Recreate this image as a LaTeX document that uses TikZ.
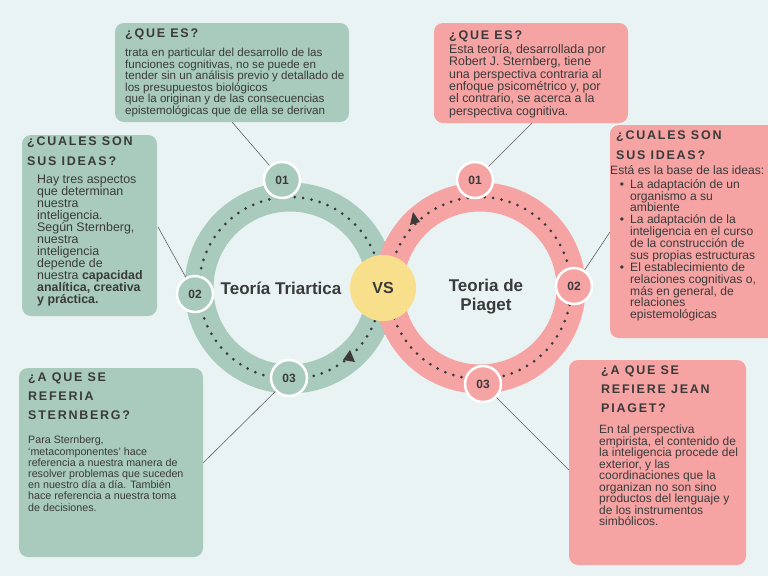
\documentclass[tikz,border=0pt]{standalone}
\usepackage{fontspec}
\setmainfont{Liberation Sans}
\newfontfamily\ttlfont[LetterSpace=14]{Liberation Sans}
\begin{document}
\begin{tikzpicture}[x=1pt,y=-1pt,
  every node/.style={inner sep=0pt},
  gbox/.style={fill=gr,rounded corners=9pt},
  pbox/.style={fill=pk,rounded corners=9pt},
  ttl/.style={anchor=north west,align=left,font=\ttlfont\bfseries\fontsize{12.5}{19.5}\selectfont,text=txt},
  body/.style={anchor=north west,align=left,text=txt},
  itm/.style={anchor=north west,align=left,text=txt,font=\fontsize{12.1}{11.9}\selectfont},
  badge/.style={circle,minimum size=36pt,draw=white,line width=2.5pt,font=\bfseries\fontsize{12}{12}\selectfont,text=txt},
  conn/.style={draw=txt!80,line width=0.6pt},
  dots/.style={draw=txt,line width=3pt,line cap=round,dash pattern=on 0pt off 8.5pt}]
\definecolor{bg}{HTML}{EAF3F4}
\definecolor{gr}{HTML}{A8CBBD}
\definecolor{pk}{HTML}{F6A3A3}
\definecolor{yl}{HTML}{F7DF8B}
\definecolor{txt}{HTML}{3A3A3A}
\fill[bg] (0,0) rectangle (768,576);
\useasboundingbox (0,0) rectangle (768,576);
% rings
\draw[gr,line width=29pt] (290,288) circle[radius=91];
\draw[pk,line width=29pt] (480,288) circle[radius=91];
\draw[dots] (290,288) circle[radius=91];
\draw[dots] (480,288) circle[radius=91];
\fill[txt] (350,350) -- (343,360) -- (355,362) -- cycle;
\fill[txt] (413,212) -- (410,225) -- (420,222) -- cycle;
\node[circle,fill=yl,minimum size=66pt] (vs) at (383,288) {};
\node[font=\bfseries\fontsize{16}{16}\selectfont,text=txt] at (383,288) {VS};
\node[font=\bfseries\fontsize{17}{17}\selectfont,text=txt] (lt) at (281,288) {Teoría Triartica};
\node[font=\bfseries\fontsize{17}{19}\selectfont,text=txt,align=center] (rt) at (486,297) {Teoria de\\Piaget};
% badges
\node[badge,fill=gr] (g1) at (282,180) {01};
\node[badge,fill=gr] (g2) at (195,294) {02};
\node[badge,fill=gr] (g3) at (289,378) {03};
\node[badge,fill=pk] (p1) at (475,180) {01};
\node[badge,fill=pk] (p2) at (574,286) {02};
\node[badge,fill=pk] (p3) at (483,384) {03};
% boxes
\fill[gbox] (115,23) rectangle (349,122);
\fill[gbox] (22,135) rectangle (157,316);
\fill[gbox] (19,368) rectangle (203,557);
\fill[pbox] (434,23) rectangle (628,123);
\fill[pbox] (610,125) rectangle (776,338);
\fill[pbox] (569,360) rectangle (746,565);
\coordinate (c1) at (232,122);
\coordinate (c2) at (158,227);
\coordinate (c3) at (203,463);
\coordinate (d1) at (532,123);
\coordinate (d2) at (610,232);
\coordinate (d3) at (569,470);
\draw[conn] (c1) -- (g1);
\draw[conn] (c2) -- (g2);
\draw[conn] (c3) -- (g3);
\draw[conn] (d1) -- (p1);
\draw[conn] (d2) -- (p2);
\draw[conn] (d3) -- (p3);
% texts
\node[ttl] at (125,29) {¿QUE ES?};
\node[body,font=\fontsize{11.6}{11.5}\selectfont] at (125,48) {trata en particular del desarrollo de las\\funciones cognitivas, no se puede en\\tender sin un análisis previo y detallado de\\los presupuestos biológicos\\que la originan y de las consecuencias\\epistemológicas que de ella se derivan};
\node[ttl] at (27,137) {¿CUALES SON\\SUS IDEAS?};
\node[body,font=\fontsize{12.4}{12}\selectfont] at (37,175) {Hay tres aspectos\\que determinan\\nuestra\\inteligencia.\\Según Sternberg,\\nuestra\\inteligencia\\depende de\\nuestra \textbf{capacidad}\\\textbf{analítica, creativa}\\\textbf{y práctica.}};
\node[ttl,font=\ttlfont\bfseries\fontsize{12.5}{19}\selectfont] at (28,373) {¿A QUE SE\\REFERIA\\STERNBERG?};
\node[body,font=\fontsize{10.7}{11.2}\selectfont] at (28,436) {Para Sternberg,\\‘metacomponentes' hace\\referencia a nuestra manera de\\resolver problemas que suceden\\en nuestro día a día. También\\hace referencia a nuestra toma\\de decisiones.};
\node[ttl] at (449,31) {¿QUE ES?};
\node[body,font=\fontsize{12.4}{12.4}\selectfont] at (449,44) {Esta teoría, desarrollada por\\Robert J. Sternberg, tiene\\una perspectiva contraria al\\enfoque psicométrico y, por\\el contrario, se acerca a la\\perspectiva cognitiva.};
\node[ttl] at (616,131) {¿CUALES SON\\SUS IDEAS?};
\node[itm] at (610,165) {Está es la base de las ideas:};
\node[itm] at (630,179) {\llap{•\hspace{6pt}}La adaptación de un\\organismo a su\\ambiente};
\node[itm] at (630,214.7) {\llap{•\hspace{6pt}}La adaptación de la\\inteligencia en el curso\\de la construcción de\\sus propias estructuras};
\node[itm] at (630,262.3) {\llap{•\hspace{6pt}}El establecimiento de\\relaciones cognitivas o,\\más en general, de\\relaciones\\epistemológicas};
\node[ttl,font=\ttlfont\bfseries\fontsize{12.5}{19}\selectfont] at (601,366) {¿A QUE SE\\REFIERE JEAN\\PIAGET?};
\node[body,font=\fontsize{12}{11.5}\selectfont] at (599,425) {En tal perspectiva\\empirista, el contenido de\\la inteligencia procede del\\exterior, y las\\coordinaciones que la\\organizan no son sino\\productos del lenguaje y\\de los instrumentos\\simbólicos.};
\end{tikzpicture}
\end{document}
